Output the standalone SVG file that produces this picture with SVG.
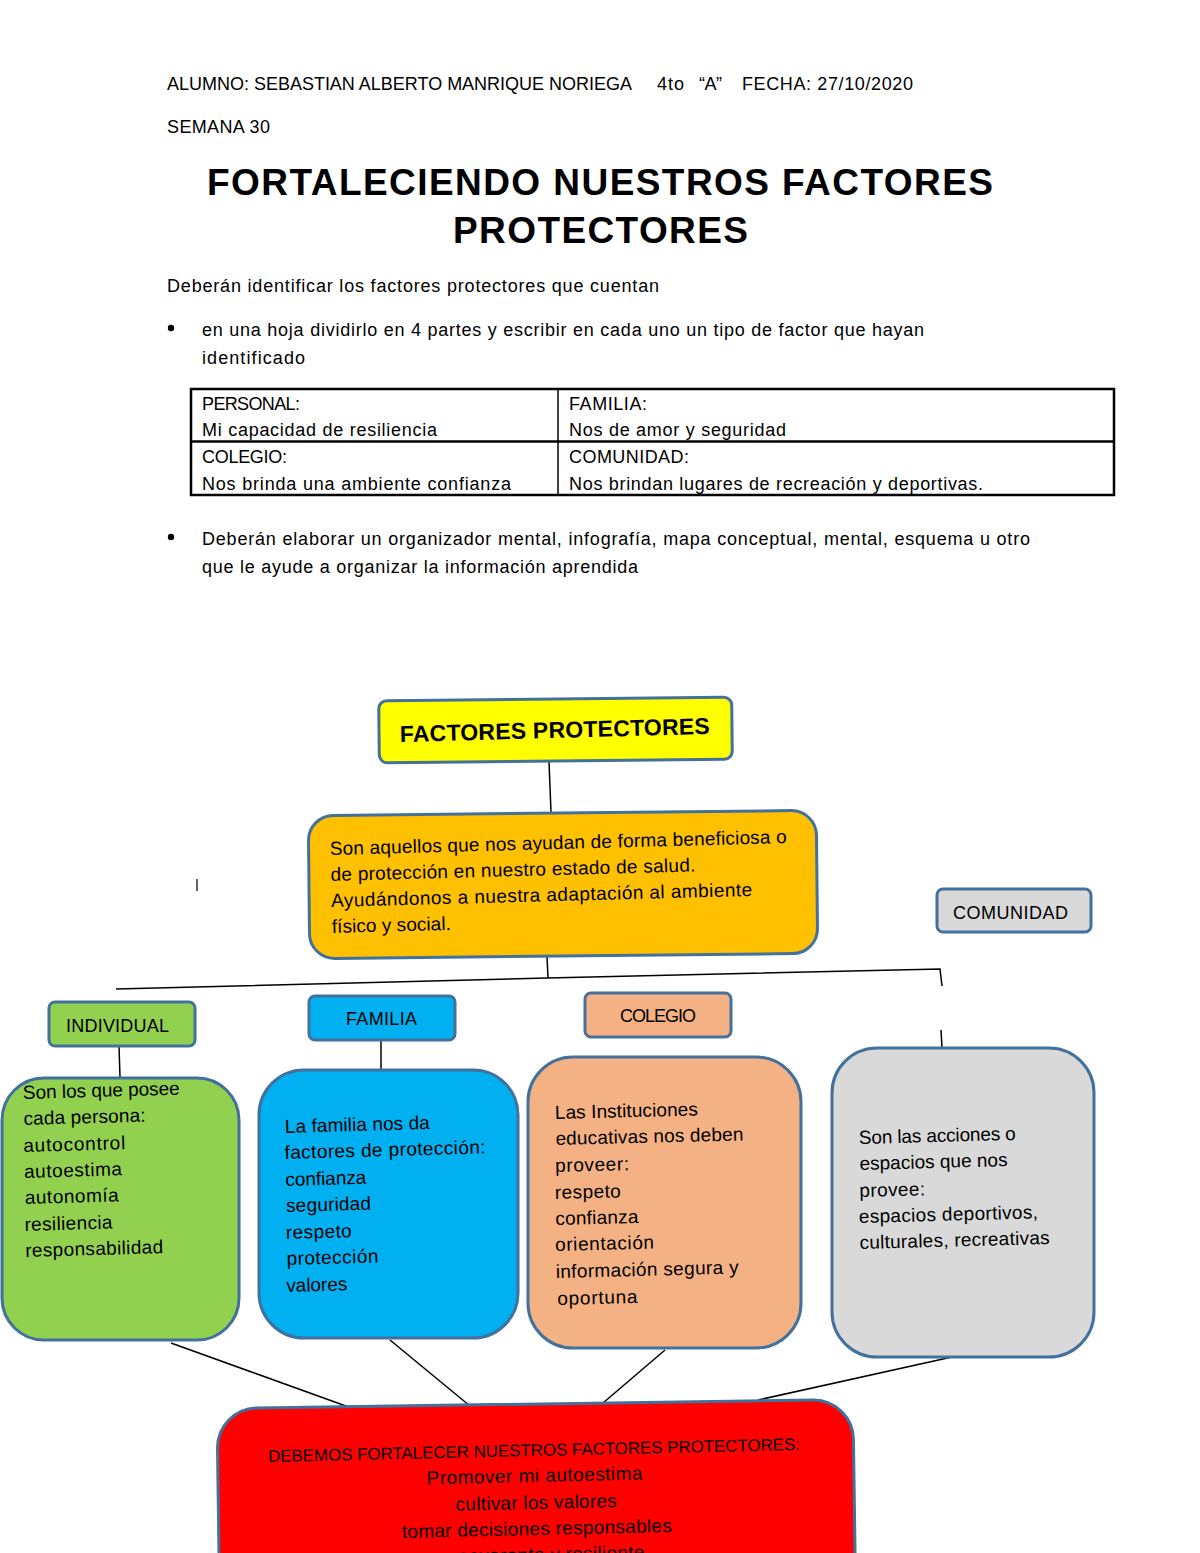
<svg xmlns="http://www.w3.org/2000/svg" width="1200" height="1553" viewBox="0 0 1200 1553">
<style>
.t{font-family:"Liberation Sans",Arial,sans-serif;font-size:18px;fill:#000}
.d{font-family:"Liberation Sans",Arial,sans-serif;font-size:19px;fill:#000}
.s{font-family:"Liberation Sans",Arial,sans-serif;font-size:17px;fill:#000}
.lbl{font-family:"Liberation Sans",Arial,sans-serif;font-size:18px;fill:#000}
.big{font-family:"Liberation Sans",Arial,sans-serif;font-size:23px;font-weight:bold;fill:#000}
.title{font-family:"Liberation Sans",Arial,sans-serif;font-size:37px;font-weight:bold;fill:#000}
.box{stroke:#41719c;stroke-width:3}
.conn{stroke:#000;stroke-width:1.5;fill:none}
.c{text-anchor:middle}
</style>
<rect width="1200" height="1553" fill="#fff"/>
<g id="header">
<text class="t" x="167" y="90" textLength="465">ALUMNO: SEBASTIAN ALBERTO MANRIQUE NORIEGA</text>
<text class="t" x="657" y="90" textLength="27">4to</text>
<text class="t" x="699" y="90" textLength="23">“A”</text>
<text class="t" x="742" y="90" textLength="171">FECHA: 27/10/2020</text>
<text class="t" x="167" y="133" textLength="103">SEMANA 30</text>
<text class="title" x="207" y="195" textLength="786">FORTALECIENDO NUESTROS FACTORES</text>
<text class="title" x="453" y="243" textLength="295">PROTECTORES</text>
<text class="t" x="167" y="292" textLength="492">Deberán identificar los factores protectores que cuentan</text>
<circle cx="171" cy="328" r="3.2" fill="#000"/>
<text class="t" x="202" y="336" textLength="722">en una hoja dividirlo en 4 partes y escribir en cada uno un tipo de factor que hayan</text>
<text class="t" x="202" y="364" textLength="103">identificado</text>
<circle cx="171" cy="537" r="3.2" fill="#000"/>
<text class="t" x="202" y="545" textLength="828">Deberán elaborar un organizador mental, infografía, mapa conceptual, mental, esquema u otro</text>
<text class="t" x="202" y="573" textLength="436">que le ayude a organizar la información aprendida</text>
</g>
<g id="table">
<rect x="191" y="389" width="923" height="106" fill="none" stroke="#000" stroke-width="2.5"/>
<line x1="191" y1="441.5" x2="1114" y2="441.5" stroke="#000" stroke-width="2.5"/>
<line x1="558" y1="389" x2="558" y2="495" stroke="#000" stroke-width="1.5"/>
<text class="t" x="202" y="410" textLength="98">PERSONAL:</text>
<text class="t" x="202" y="436" textLength="235">Mi capacidad de resiliencia</text>
<text class="t" x="569" y="410" textLength="78">FAMILIA:</text>
<text class="t" x="569" y="436" textLength="217">Nos de amor y seguridad</text>
<text class="t" x="202" y="463" textLength="85">COLEGIO:</text>
<text class="t" x="202" y="490" textLength="309">Nos brinda una ambiente confianza</text>
<text class="t" x="569" y="463" textLength="120">COMUNIDAD:</text>
<text class="t" x="569" y="490" textLength="414">Nos brindan lugares de recreación y deportivas.</text>
</g>
<g id="connectors">
<polyline class="conn" points="549,762 551,812"/>
<polyline class="conn" points="547,957 548,978"/>
<polyline class="conn" points="116,989 547,978 940,969 942,986"/>
<polyline class="conn" points="941,1030 942,1048"/>
<polyline class="conn" points="119,1046 120,1077"/>
<polyline class="conn" points="381,1040 381,1069"/>
<polyline class="conn" points="171,1343 357,1410"/>
<polyline class="conn" points="390,1340 470,1406"/>
<polyline class="conn" points="665,1350 603,1403"/>
<polyline class="conn" points="952,1357 758,1400"/>
<line x1="197" y1="879" x2="197" y2="891" stroke="#333" stroke-width="1.5"/>
</g>
<g id="n-factores">
<rect class="box" x="379" y="699" width="353" height="62" rx="8" fill="#ffff00" transform="rotate(-0.6 555 730)"/>
<text class="big" x="400" y="742" textLength="310" transform="rotate(-1.5 400 742)">FACTORES PROTECTORES</text>
</g>
<g id="n-definicion">
<rect class="box" x="309" y="813" width="508" height="143" rx="25" fill="#ffc000" transform="rotate(-0.6 563 885)"/>
<g transform="rotate(-1.5 330 855)">
<text class="d" x="330" y="855" textLength="457">Son aquellos que nos ayudan de forma beneficiosa o</text>
<text class="d" x="330" y="881" textLength="365">de protección en nuestro estado de salud.</text>
<text class="d" x="330" y="907" textLength="421">Ayudándonos  a nuestra adaptación al ambiente</text>
<text class="d" x="330" y="933" textLength="119">físico y social.</text>
</g>
</g>
<g id="n-comunidad">
<rect class="box" x="937" y="889" width="154" height="43" rx="6" fill="#d9d9d9"/>
<text class="lbl" x="953" y="919" textLength="115">COMUNIDAD</text>
</g>
<g id="n-individual">
<rect class="box" x="49" y="1002" width="146" height="44" rx="6" fill="#92d050"/>
<text class="lbl" x="66" y="1032" textLength="103">INDIVIDUAL</text>
</g>
<g id="n-familia">
<rect class="box" x="309" y="996" width="146" height="44" rx="6" fill="#00b0f0"/>
<text class="lbl" x="346" y="1025" textLength="71">FAMILIA</text>
</g>
<g id="n-colegio">
<rect class="box" x="585" y="993" width="146" height="44" rx="6" fill="#f4b183"/>
<text class="lbl" x="620" y="1022" textLength="76">COLEGIO</text>
</g>
<g id="n-individual-desc">
<rect class="box" x="2" y="1078" width="237" height="262" rx="42" fill="#92d050"/>
<g transform="rotate(-1.6 23 1099)">
<text class="d" x="23" y="1099" textLength="157">Son los que posee</text>
<text class="d" x="23" y="1125" textLength="122">cada persona:</text>
<text class="d" x="22" y="1152" textLength="102">autocontrol</text>
<text class="d" x="22" y="1178" textLength="98">autoestima</text>
<text class="d" x="22" y="1204" textLength="94">autonomía</text>
<text class="d" x="21" y="1231" textLength="88">resiliencia</text>
<text class="d" x="21" y="1257" textLength="138">responsabilidad</text>
</g>
</g>
<g id="n-familia-desc">
<rect class="box" x="259" y="1070" width="259" height="268" rx="45" fill="#00b0f0"/>
<g transform="rotate(-1.6 285 1133)">
<text class="d" x="285" y="1133" textLength="145">La familia nos da</text>
<text class="d" x="284" y="1159" textLength="201">factores de protección:</text>
<text class="d" x="284" y="1186" textLength="81">confianza</text>
<text class="d" x="284" y="1212" textLength="85">seguridad</text>
<text class="d" x="283" y="1239" textLength="66">respeto</text>
<text class="d" x="283" y="1265" textLength="92">protección</text>
<text class="d" x="282" y="1292" textLength="61">valores</text>
</g>
</g>
<g id="n-colegio-desc">
<rect class="box" x="528" y="1057" width="273" height="291" rx="45" fill="#f4b183"/>
<g transform="rotate(-1.4 555 1119)">
<text class="d" x="555" y="1119" textLength="143">Las Instituciones</text>
<text class="d" x="555" y="1145" textLength="188">educativas nos deben</text>
<text class="d" x="554" y="1172" textLength="74">proveer:</text>
<text class="d" x="553" y="1199" textLength="66">respeto</text>
<text class="d" x="553" y="1225" textLength="83">confianza</text>
<text class="d" x="552" y="1251" textLength="99">orientación</text>
<text class="d" x="552" y="1278" textLength="183">información segura y</text>
<text class="d" x="553" y="1305" textLength="80">oportuna</text>
</g>
</g>
<g id="n-comunidad-desc">
<rect class="box" x="832" y="1048" width="262" height="309" rx="45" fill="#d9d9d9"/>
<g transform="rotate(-1.5 859 1144)">
<text class="d" x="859" y="1144" textLength="157">Son las acciones o</text>
<text class="d" x="859" y="1170" textLength="148">espacios que nos</text>
<text class="d" x="858" y="1197" textLength="66">provee:</text>
<text class="d" x="857" y="1223" textLength="179">espacios deportivos,</text>
<text class="d" x="857" y="1249" textLength="190">culturales, recreativas</text>
</g>
</g>
<g id="n-fortalecer">
<rect class="box" x="217" y="1404" width="636" height="220" rx="40" fill="#ff0000" transform="rotate(-0.8 535 1410)"/>
<g transform="rotate(-1.3 535 1450)">
<text class="s c" x="534" y="1456" textLength="532">DEBEMOS FORTALECER NUESTROS FACTORES PROTECTORES:</text>
<text class="d c" x="534" y="1482" textLength="216">Promover mi autoestima</text>
<text class="d c" x="535" y="1509" textLength="161">cultivar los valores</text>
<text class="d c" x="535" y="1535" textLength="270">tomar decisiones responsables</text>
<text class="d c" x="535" y="1561" textLength="214">perseverante y resiliente</text>
</g>
</g>
</svg>
